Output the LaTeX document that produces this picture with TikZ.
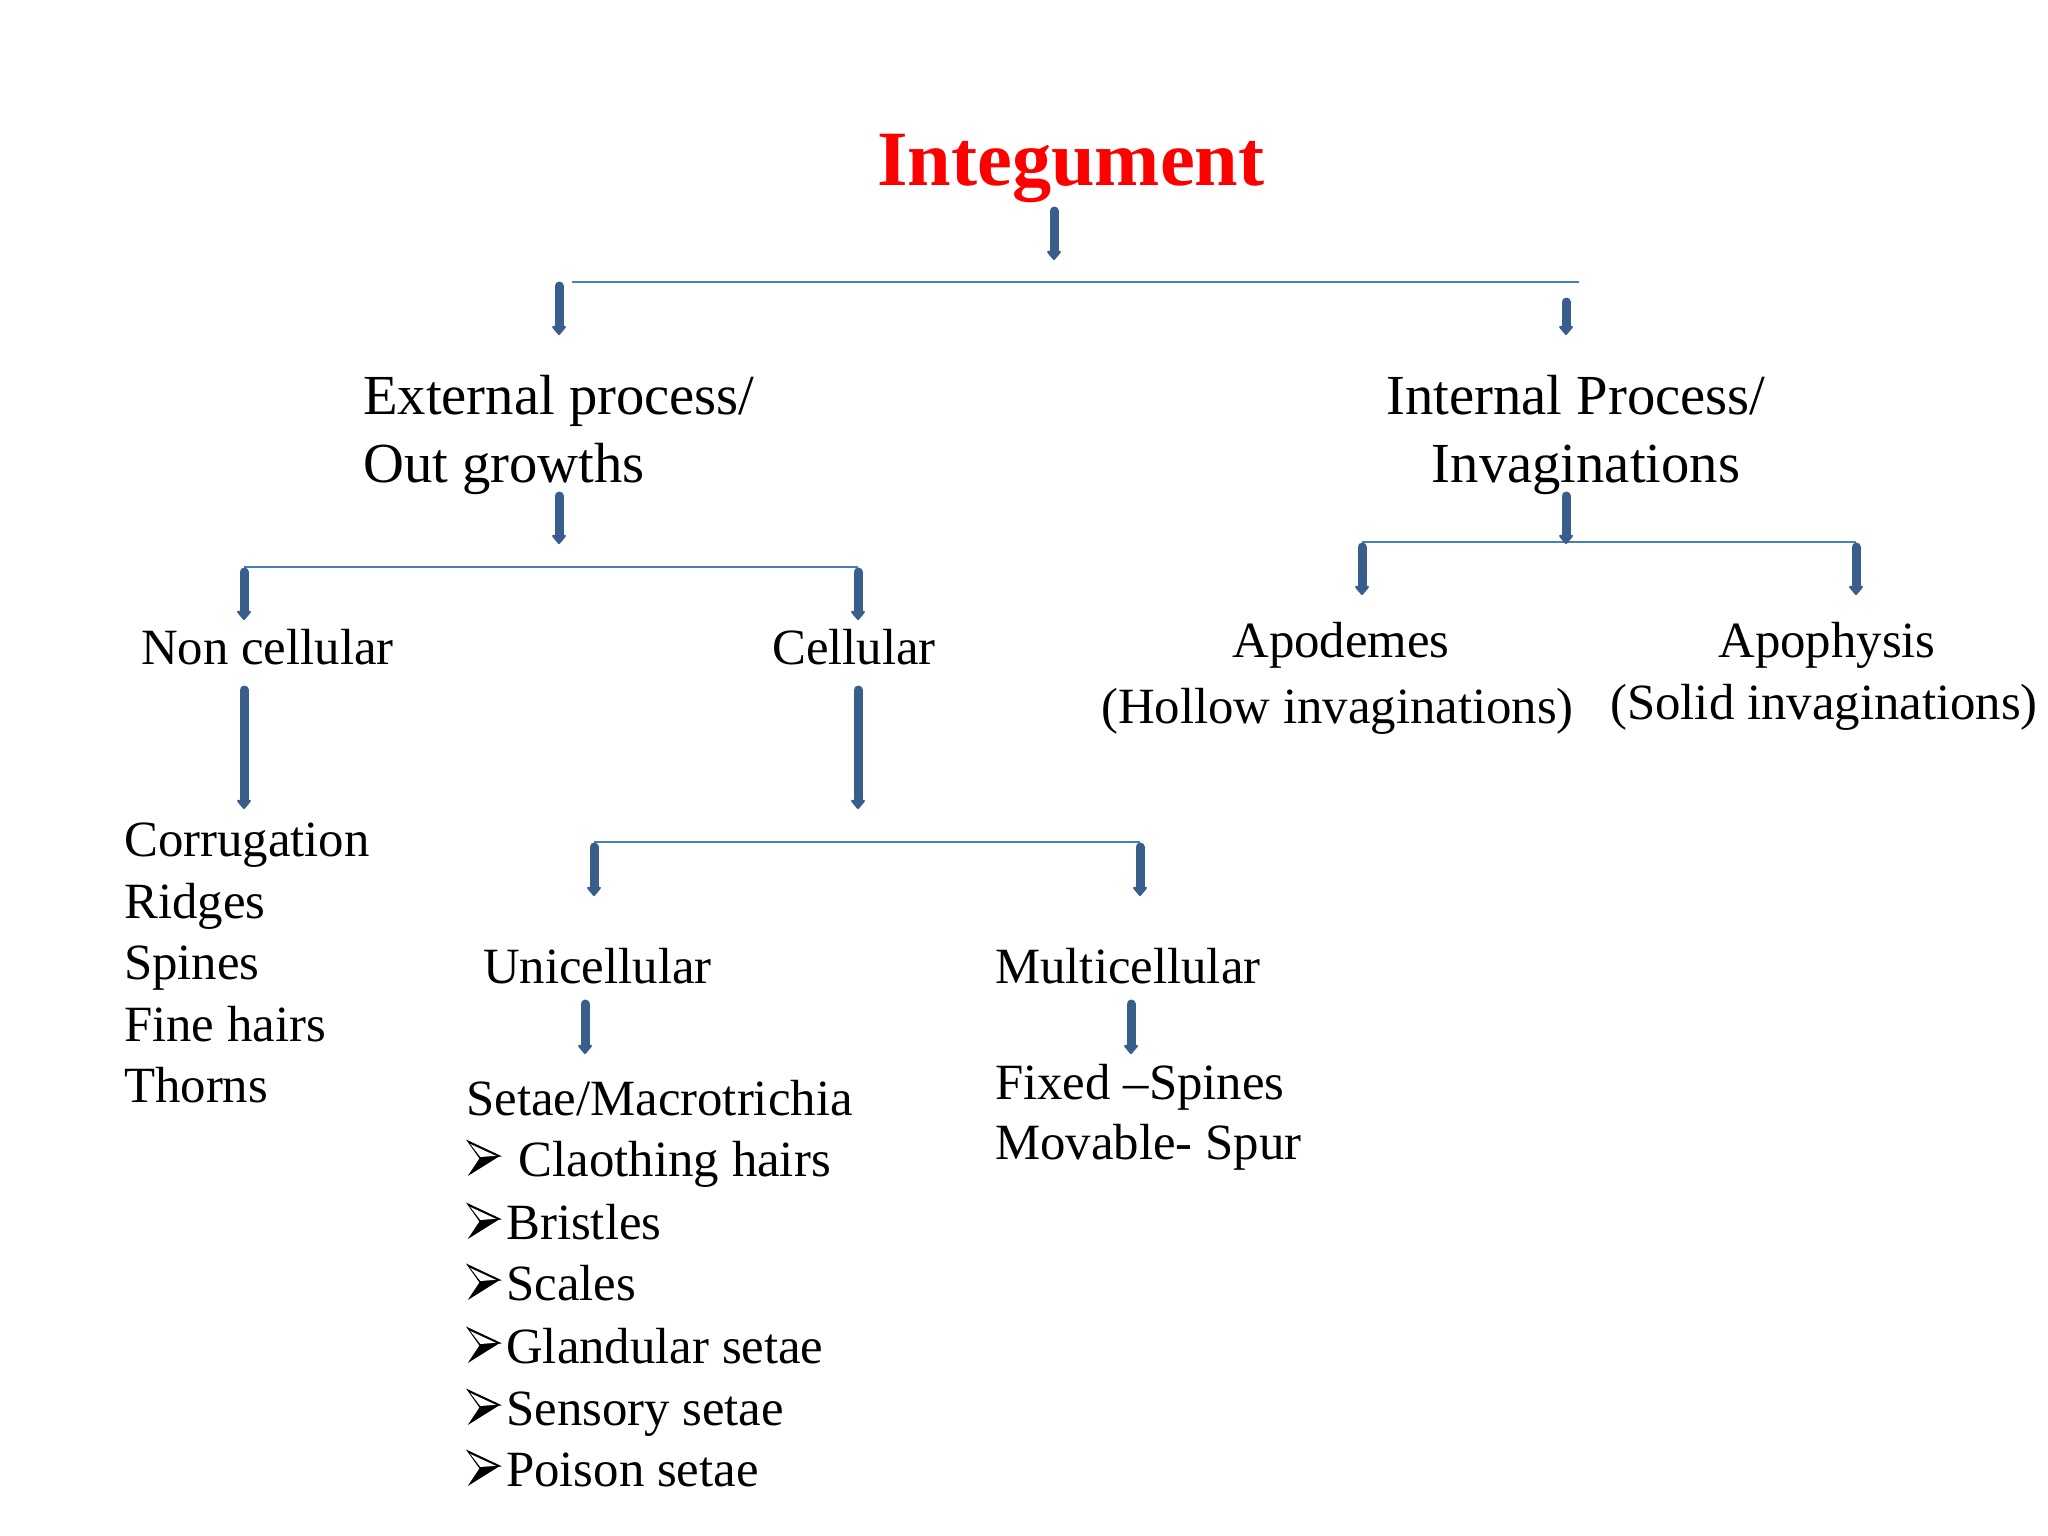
\documentclass[tikz,border=0pt]{standalone}
\usepackage{fontspec}
\setmainfont{Liberation Serif}
\usetikzlibrary{arrows.meta}
\definecolor{arrblue}{RGB}{58,94,140}
\definecolor{lineblue}{RGB}{74,126,187}
\definecolor{titlered}{RGB}{255,0,0}
\tikzset{
  dn/.style={draw=arrblue, line width=9pt, line cap=round, -{Triangle[width=16pt,length=10pt,round]}},
  hl/.style={draw=lineblue, line width=2.5pt},
  lbl/.style={inner sep=0pt, anchor=base west, font=\fontsize{50.8}{61}\selectfont},
  lblc/.style={lbl, anchor=base},
  head/.style={inner sep=0pt, anchor=base west, font=\fontsize{56.6}{68}\selectfont},
  ttl/.style={inner sep=0pt, anchor=base, text=titlered, font=\bfseries\fontsize{78.3}{90}\selectfont},
}
\newcommand{\bul}{\makebox[40pt][l]{\hspace{1pt}\tikz[x=1pt,y=1pt,baseline=0pt,line join=miter]{%
  \draw[black, line width=1.2pt] (1,35) -- (33,20) -- (13,18) -- cycle;
  \fill[black] (1,0) -- (33,20) -- (1,35) -- (13,18) -- cycle;
  \fill[white] (3.5,32) -- (29,20.2) -- (13.5,19) -- cycle;}}}
\begin{document}
\begin{tikzpicture}[x=1pt,y=-1pt]
\useasboundingbox (0,0) rectangle (2048,1536);
\fill[white] (0,0) rectangle (2048,1536);

% title
\node[ttl] (title) at (1071,185) {Integument};
\coordinate (t0) at (1054,211);
\coordinate (t1) at (1054,260);
\draw[dn] (t0) -- (t1);
\coordinate (h1a) at (572,282);
\coordinate (h1b) at (1579,282);
\draw[hl] (h1a) -- (h1b);
\coordinate (l1a) at (559,286);
\coordinate (l1b) at (559,335);
\draw[dn] (l1a) -- (l1b);
\coordinate (r1a) at (1566,302);
\coordinate (r1b) at (1566,335);
\draw[dn] (r1a) -- (r1b);

% external
\node[head] (ext1) at (363,414) {External process/};
\node[head] (ext2) at (363,482) {Out growths};
\coordinate (e0) at (559,496);
\coordinate (e1) at (559,544);
\draw[dn] (e0) -- (e1);
\coordinate (h2a) at (244,567);
\coordinate (h2b) at (858,567);
\draw[hl] (h2a) -- (h2b);
\coordinate (n0) at (244,572);
\coordinate (n1) at (244,620);
\draw[dn] (n0) -- (n1);
\coordinate (c0) at (858,572);
\coordinate (c1) at (858,620);
\draw[dn] (c0) -- (c1);

\node[lbl] (noncell) at (141,664) {Non cellular};
\node[lbl] (cell) at (772,664) {Cellular};
\coordinate (nc0) at (244,690);
\coordinate (nc1) at (244,809);
\draw[dn] (nc0) -- (nc1);
\coordinate (cc0) at (858,690);
\coordinate (cc1) at (858,809);
\draw[dn] (cc0) -- (cc1);

\node[lbl] (corr) at (124,856) {Corrugation};
\node[lbl] (ridg) at (124,918) {Ridges};
\node[lbl] (spin) at (124,979) {Spines};
\node[lbl] (fine) at (124,1041) {Fine hairs};
\node[lbl] (thor) at (124,1102) {Thorns};

\coordinate (h3a) at (594,842);
\coordinate (h3b) at (1140,842);
\draw[hl] (h3a) -- (h3b);
\coordinate (u0) at (594,847);
\coordinate (u1) at (594,896);
\draw[dn] (u0) -- (u1);
\coordinate (m0) at (1140,847);
\coordinate (m1) at (1140,896);
\draw[dn] (m0) -- (m1);

\node[lbl] (uni) at (483,983) {Unicellular};
\node[lbl] (multi) at (995,983) {Multicellular};
\coordinate (uu0) at (585,1004);
\coordinate (uu1) at (585,1054);
\draw[dn] (uu0) -- (uu1);
\coordinate (mm0) at (1131,1004);
\coordinate (mm1) at (1131,1054);
\draw[dn] (mm0) -- (mm1);

\node[lbl] (setae) at (466,1115) {Setae/Macrotrichia};
\node[lbl] (cloth) at (466,1176) {\bul\ Claothing hairs};
\node[lbl] (bris) at (466,1239) {\bul Bristles};
\node[lbl] (scal) at (466,1300) {\bul Scales};
\node[lbl] (glan) at (466,1363) {\bul Glandular setae};
\node[lbl] (sens) at (466,1425) {\bul Sensory setae};
\node[lbl] (pois) at (466,1486) {\bul Poison setae};

\node[lbl] (fixed) at (995,1099) {Fixed –Spines};
\node[lbl] (mov) at (995,1159) {Movable- Spur};

% internal
\node[head, anchor=base] (int1) at (1576,414) {Internal Process/};
\node[head, anchor=base] (int2) at (1586,482) {Invaginations};
\coordinate (i0) at (1566,496);
\coordinate (i1) at (1566,544);
\coordinate (h4a) at (1362,542);
\coordinate (h4b) at (1856,542);
\draw[hl] (h4a) -- (h4b);
\draw[dn] (i0) -- (i1);
\coordinate (a0) at (1362,547);
\coordinate (a1) at (1362,595);
\draw[dn] (a0) -- (a1);
\coordinate (p0) at (1856,547);
\coordinate (p1) at (1856,595);
\draw[dn] (p0) -- (p1);

\node[lblc] (apod) at (1341,657) {Apodemes};
\node[lbl] (hollow) at (1101,723) {(Hollow invaginations)};
\node[lblc] (apop) at (1827,657) {Apophysis};
\node[lbl] (solid) at (1610,719) {(Solid invaginations)};
\end{tikzpicture}
\end{document}
